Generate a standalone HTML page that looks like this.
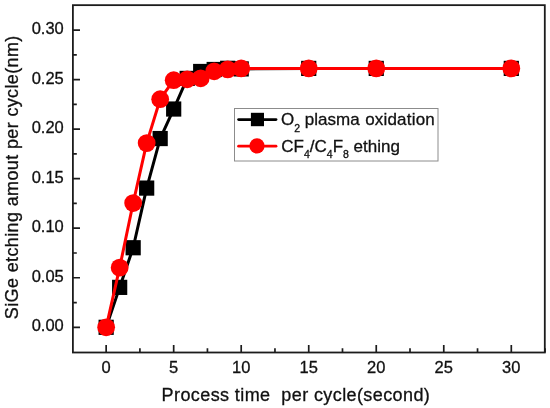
<!DOCTYPE html><html><head><meta charset="utf-8"><style>html,body{margin:0;padding:0;background:#fff;overflow:hidden;width:550px;height:408px;}svg{display:block;}text{font-family:"Liberation Sans",Arial,sans-serif;fill:#111;stroke:#111;stroke-width:0.3px;}</style></head><body>
<svg width="550" height="408" viewBox="0 0 550 408">
<rect x="0" y="0" width="550" height="408" fill="#fff"/>
<rect x="72.9" y="5.15" width="471.90" height="347.35" fill="none" stroke="#1c1c1c" stroke-width="1.8"/>
<path d="M106.15 352.5V344.9 M173.68 352.5V344.9 M241.20 352.5V344.9 M308.73 352.5V344.9 M376.25 352.5V344.9 M443.77 352.5V344.9 M511.30 352.5V344.9 M139.91 352.5V348.3 M207.44 352.5V348.3 M274.96 352.5V348.3 M342.49 352.5V348.3 M410.01 352.5V348.3 M477.54 352.5V348.3 M545.06 352.5V348.3 M72.9 327.30H80.0 M72.9 277.76H80.0 M72.9 228.22H80.0 M72.9 178.68H80.0 M72.9 129.14H80.0 M72.9 79.60H80.0 M72.9 30.06H80.0 M72.9 302.53H76.80000000000001 M72.9 252.99H76.80000000000001 M72.9 203.45H76.80000000000001 M72.9 153.91H76.80000000000001 M72.9 104.37H76.80000000000001 M72.9 54.83H76.80000000000001" stroke="#1c1c1c" stroke-width="1.7" fill="none"/>
<text x="106.15" y="373.3" font-size="16.5" text-anchor="middle">0</text>
<text x="173.68" y="373.3" font-size="16.5" text-anchor="middle">5</text>
<text x="241.20" y="373.3" font-size="16.5" text-anchor="middle">10</text>
<text x="308.73" y="373.3" font-size="16.5" text-anchor="middle">15</text>
<text x="376.25" y="373.3" font-size="16.5" text-anchor="middle">20</text>
<text x="443.77" y="373.3" font-size="16.5" text-anchor="middle">25</text>
<text x="511.30" y="373.3" font-size="16.5" text-anchor="middle">30</text>
<text x="63.8" y="331.30" font-size="16.5" text-anchor="end">0.00</text>
<text x="63.8" y="281.76" font-size="16.5" text-anchor="end">0.05</text>
<text x="63.8" y="232.22" font-size="16.5" text-anchor="end">0.10</text>
<text x="63.8" y="182.68" font-size="16.5" text-anchor="end">0.15</text>
<text x="63.8" y="133.14" font-size="16.5" text-anchor="end">0.20</text>
<text x="63.8" y="83.60" font-size="16.5" text-anchor="end">0.25</text>
<text x="63.8" y="34.06" font-size="16.5" text-anchor="end">0.30</text>
<text x="161.6" y="400.6" font-size="18" textLength="268.2" lengthAdjust="spacing" xml:space="preserve">Process time  per cycle(second)</text>
<text transform="translate(17.9 319.2) rotate(-90)" font-size="18" textLength="283.5" lengthAdjust="spacing">SiGe etching amout per cycle(nm)</text>
<polyline points="106.15,327.30 119.66,287.37 133.16,247.74 146.67,188.09 160.17,138.55 173.68,109.03 187.18,78.41 200.69,71.48 214.19,69.49 227.69,68.30 241.20,68.90 308.73,68.40 376.25,68.40 511.30,68.40" fill="none" stroke="#000" stroke-width="3" stroke-linejoin="round"/>
<rect x="98.55" y="319.70" width="15.2" height="15.2" fill="#000"/>
<rect x="112.06" y="279.77" width="15.2" height="15.2" fill="#000"/>
<rect x="125.56" y="240.14" width="15.2" height="15.2" fill="#000"/>
<rect x="139.07" y="180.49" width="15.2" height="15.2" fill="#000"/>
<rect x="152.57" y="130.95" width="15.2" height="15.2" fill="#000"/>
<rect x="166.08" y="101.43" width="15.2" height="15.2" fill="#000"/>
<rect x="179.58" y="70.81" width="15.2" height="15.2" fill="#000"/>
<rect x="193.09" y="63.88" width="15.2" height="15.2" fill="#000"/>
<rect x="206.59" y="61.89" width="15.2" height="15.2" fill="#000"/>
<rect x="220.09" y="60.70" width="15.2" height="15.2" fill="#000"/>
<rect x="233.60" y="61.30" width="15.2" height="15.2" fill="#000"/>
<rect x="301.12" y="60.80" width="15.2" height="15.2" fill="#000"/>
<rect x="368.65" y="60.80" width="15.2" height="15.2" fill="#000"/>
<rect x="503.70" y="60.80" width="15.2" height="15.2" fill="#000"/>
<polyline points="106.15,327.30 119.66,267.65 133.16,203.05 146.67,143.11 160.17,99.22 173.68,80.19 187.18,79.30 200.69,78.31 214.19,71.28 227.69,69.39 241.20,68.40 308.73,68.40 376.25,68.40 511.30,68.40" fill="none" stroke="#f00" stroke-width="3" stroke-linejoin="round"/>
<circle cx="106.15" cy="327.30" r="8.9" fill="#f00"/>
<circle cx="119.66" cy="267.65" r="8.9" fill="#f00"/>
<circle cx="133.16" cy="203.05" r="8.9" fill="#f00"/>
<circle cx="146.67" cy="143.11" r="8.9" fill="#f00"/>
<circle cx="160.17" cy="99.22" r="8.9" fill="#f00"/>
<circle cx="173.68" cy="80.19" r="8.9" fill="#f00"/>
<circle cx="187.18" cy="79.30" r="8.9" fill="#f00"/>
<circle cx="200.69" cy="78.31" r="8.9" fill="#f00"/>
<circle cx="214.19" cy="71.28" r="8.9" fill="#f00"/>
<circle cx="227.69" cy="69.39" r="8.9" fill="#f00"/>
<circle cx="241.20" cy="68.40" r="8.9" fill="#f00"/>
<circle cx="308.73" cy="68.40" r="8.9" fill="#f00"/>
<circle cx="376.25" cy="68.40" r="8.9" fill="#f00"/>
<circle cx="511.30" cy="68.40" r="8.9" fill="#f00"/>
<rect x="234.5" y="108.5" width="203.5" height="52.5" fill="#fff" stroke="#8c8c8c" stroke-width="1"/>
<path d="M238.6 119.6H276" stroke="#000" stroke-width="2.8" stroke-linecap="round"/>
<rect x="250.9" y="112.8" width="13.1" height="13.4" fill="#000"/>
<path d="M238.6 146.2H276" stroke="#f00" stroke-width="2.8" stroke-linecap="round"/>
<circle cx="257" cy="145.9" r="7.6" fill="#f00"/>
<text x="281" y="125" font-size="17">O<tspan font-size="10.5" dy="6.8">2</tspan><tspan dy="-6.8"> plasma </tspan><tspan dx="0.8" letter-spacing="0.2">oxidation</tspan></text>
<text x="281.3" y="151.6" font-size="17">CF<tspan font-size="10.5" dy="6.8">4</tspan><tspan dy="-6.8">/C</tspan><tspan font-size="10.5" dy="6.8">4</tspan><tspan dy="-6.8">F</tspan><tspan font-size="10.5" dy="6.8">8</tspan><tspan dy="-6.8"> ething</tspan></text>
</svg></body></html>
